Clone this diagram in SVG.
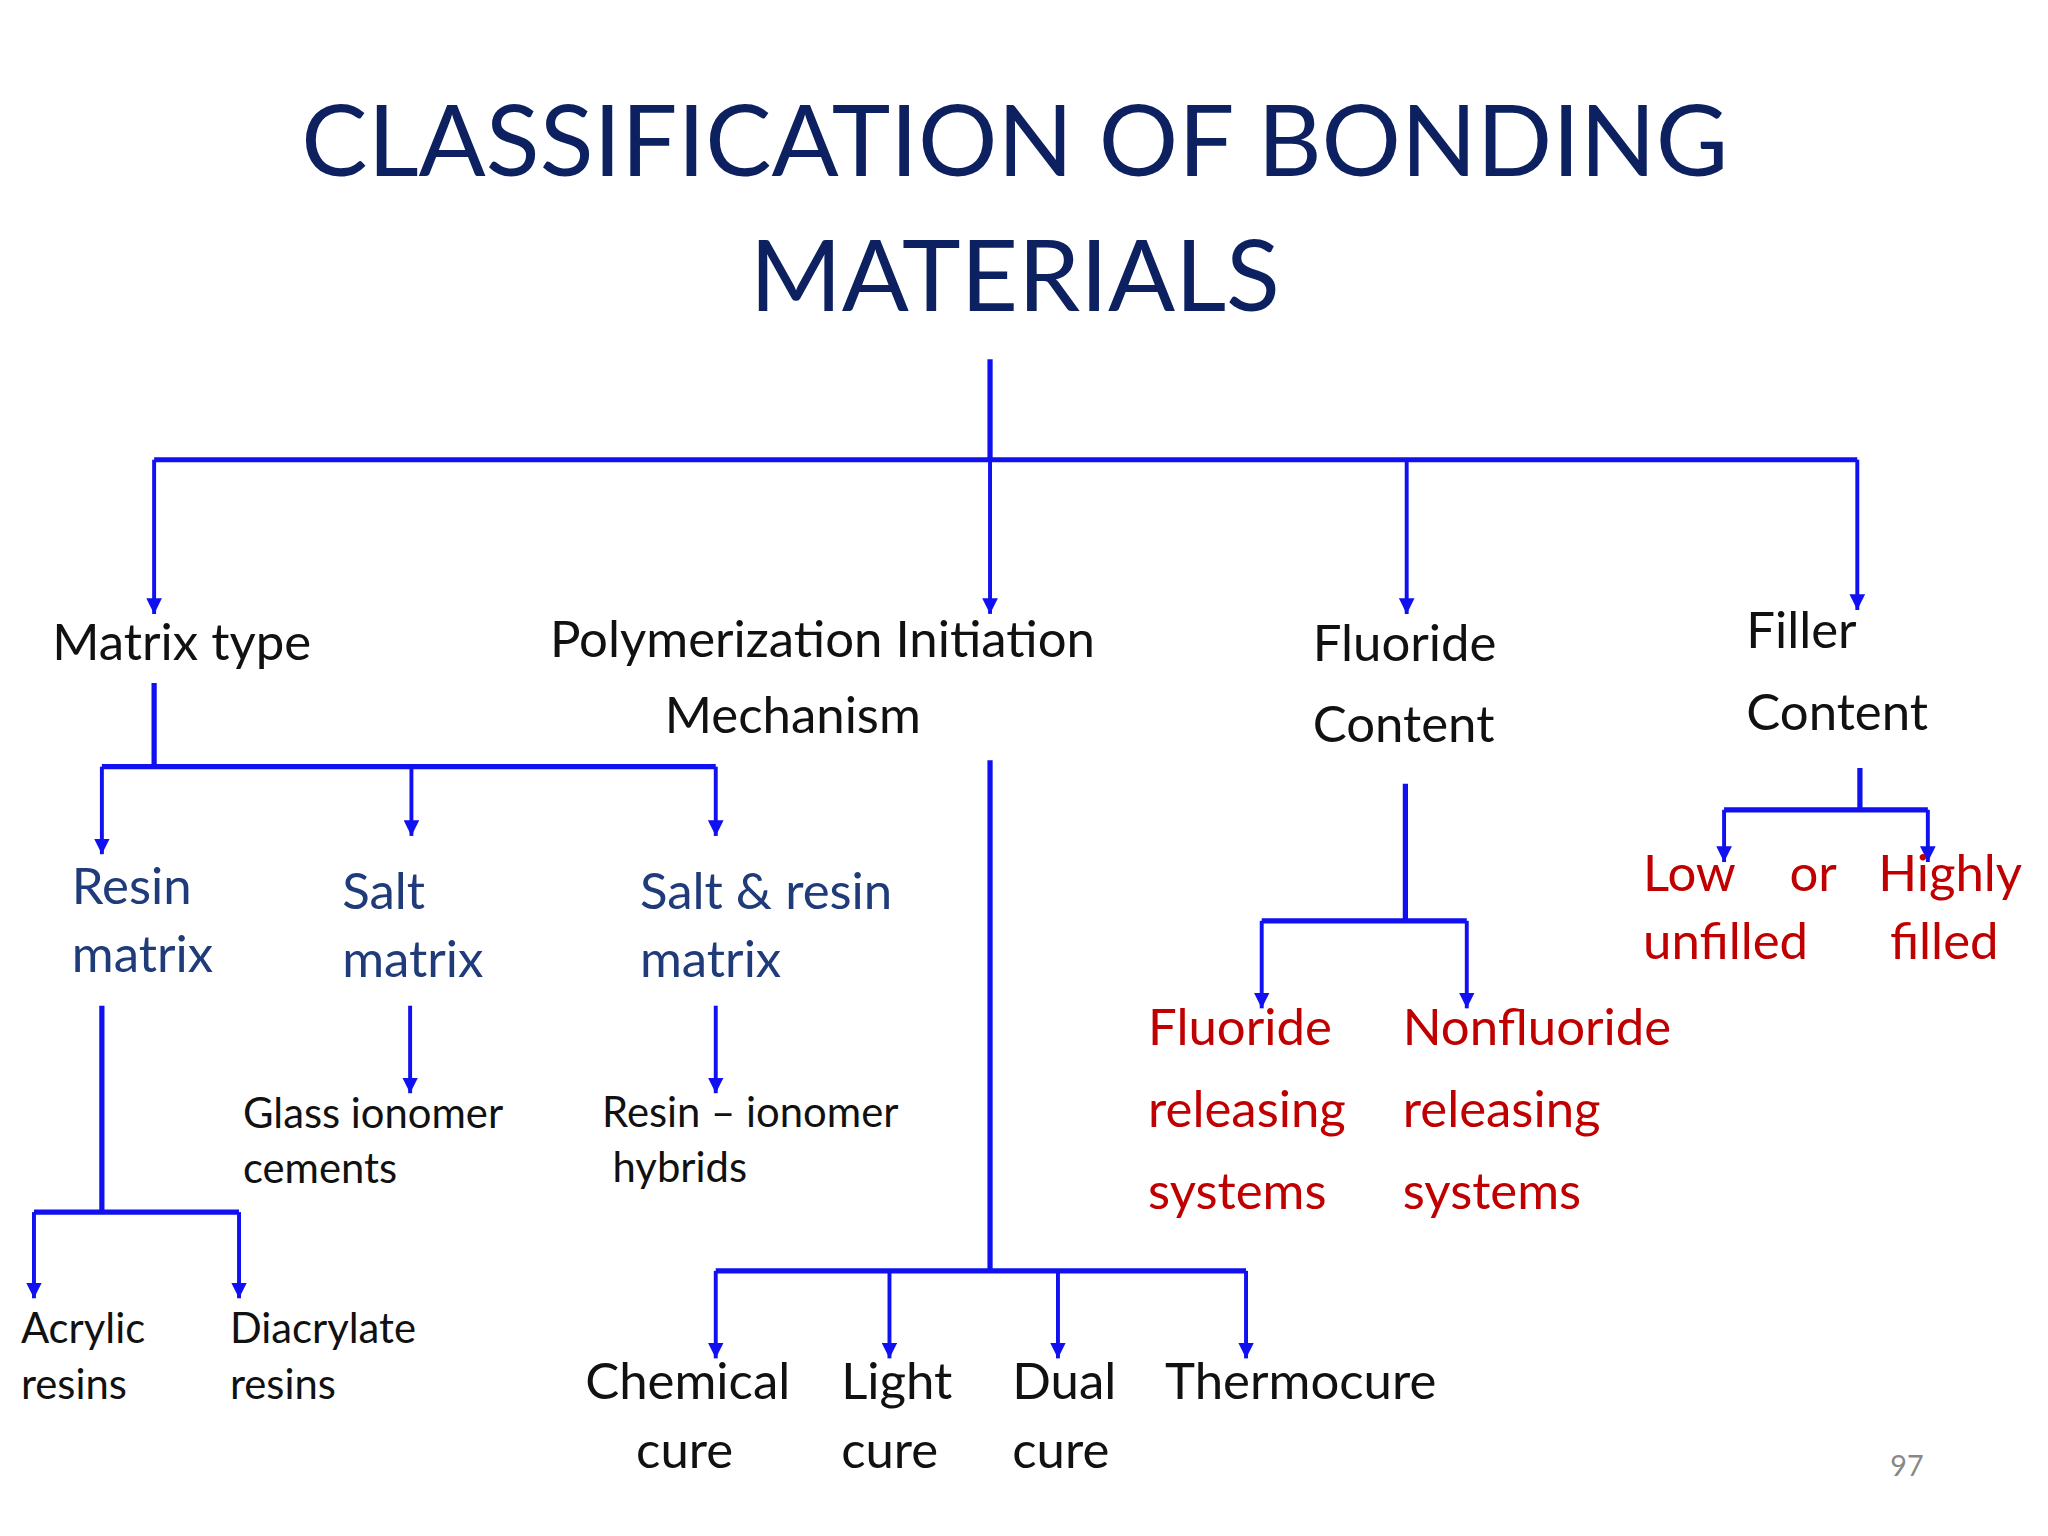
<svg xmlns="http://www.w3.org/2000/svg" width="2048" height="1536" viewBox="0 0 2048 1536">
<style>
.ln{stroke:#1010f0;stroke-width:4;fill:none}
.ar{stroke:#1010f0;stroke-width:3;fill:none;marker-end:url(#ah)}
text{font-family:Lato,"Open Sans","Liberation Sans",sans-serif}
.t{font-size:76px;fill:#0d2060}
.k{font-size:39px;fill:#111}
.b{font-size:39px;fill:#1f3b7a}
.s{font-size:32px;fill:#111}
.r{font-size:39px;fill:#c00000}
</style>
<defs><marker id="ah" markerUnits="userSpaceOnUse" markerWidth="12" markerHeight="12" refX="12" refY="6" orient="auto" viewBox="0 0 12 12"><path d="M0,0 L12,6 L0,12 Z" fill="#1010f0"/></marker></defs>
<rect width="2048" height="1536" fill="#fff"/>
<g transform="scale(1.30612)">
<g id="title"><text class="t" x="777" y="135" text-anchor="middle">CLASSIFICATION OF BONDING</text><text class="t" x="777" y="238" text-anchor="middle">MATERIALS</text></g>
<g id="connectors">
<path class="ln" d="M758,275V352M118,352H1422M118,523V587M78,587H548M78,770V928M26,928H183M758,582V973M548,973H954M1076,600V705M966,705H1123M1424,588V620M1320,620H1476"/>
<path class="ar" d="M118,352V470"/><path class="ar" d="M758,352V470"/><path class="ar" d="M1077,352V470"/><path class="ar" d="M1422,352V467"/>
<path class="ar" d="M78,587V654"/><path class="ar" d="M315,587V640"/><path class="ar" d="M548,587V640"/>
<path class="ar" d="M26,928V994"/><path class="ar" d="M183,928V994"/>
<path class="ar" d="M314,770V837"/><path class="ar" d="M548,770V837"/>
<path class="ar" d="M548,973V1040"/><path class="ar" d="M681,973V1040"/><path class="ar" d="M810,973V1040"/><path class="ar" d="M954,973V1040"/>
<path class="ar" d="M966,705V772"/><path class="ar" d="M1123,705V772"/>
<path class="ar" d="M1320,620V660"/><path class="ar" d="M1476,620V660"/>
</g>
<g id="matrix"><text class="k" x="40" y="505">Matrix type</text></g>
<g id="poly"><text class="k" x="421" y="503">Polymerization Initiation</text><text class="k" x="509" y="561">Mechanism</text></g>
<g id="fluoride"><text class="k" x="1005" y="506">Fluoride</text><text class="k" x="1005" y="568">Content</text></g>
<g id="filler"><text class="k" x="1337" y="496">Filler</text><text class="k" x="1337" y="559">Content</text></g>
<g id="resin"><text class="b" x="55" y="692">Resin</text><text class="b" x="55" y="744">matrix</text></g>
<g id="salt"><text class="b" x="262" y="696">Salt</text><text class="b" x="262" y="748">matrix</text></g>
<g id="saltresin"><text class="b" x="490" y="696">Salt &amp; resin</text><text class="b" x="490" y="748">matrix</text></g>
<g id="glass"><text class="s" x="186" y="864">Glass ionomer</text><text class="s" x="186" y="906">cements</text></g>
<g id="hybrid"><text class="s" x="461" y="863">Resin – ionomer</text><text class="s" x="469" y="905">hybrids</text></g>
<g id="acrylic"><text class="s" x="16" y="1028">Acrylic</text><text class="s" x="16" y="1071">resins</text></g>
<g id="diacrylate"><text class="s" x="176" y="1028">Diacrylate</text><text class="s" x="176" y="1071">resins</text></g>
<g id="chemical"><text class="k" x="448" y="1071">Chemical</text><text class="k" x="487" y="1124">cure</text></g>
<g id="light"><text class="k" x="644" y="1071">Light</text><text class="k" x="644" y="1124">cure</text></g>
<g id="dual"><text class="k" x="775" y="1071">Dual</text><text class="k" x="775" y="1124">cure</text></g>
<g id="thermo"><text class="k" x="892" y="1071">Thermocure</text></g>
<g id="frel"><text class="r" x="879" y="800">Fluoride</text><text class="r" x="879" y="863">releasing</text><text class="r" x="879" y="926">systems</text></g>
<g id="nfrel"><text class="r" x="1074" y="800">Nonfluoride</text><text class="r" x="1074" y="863">releasing</text><text class="r" x="1074" y="926">systems</text></g>
<g id="low"><text class="r" x="1258" y="682">Low</text><text class="r" x="1370" y="682">or</text><text class="r" x="1258" y="734">unfilled</text></g>
<g id="high"><text class="r" x="1438" y="682">Highly</text><text class="r" x="1447" y="734">filled</text></g>
<text x="1460" y="1130" font-size="22" fill="#888" text-anchor="middle">97</text>
</g>
</svg>
